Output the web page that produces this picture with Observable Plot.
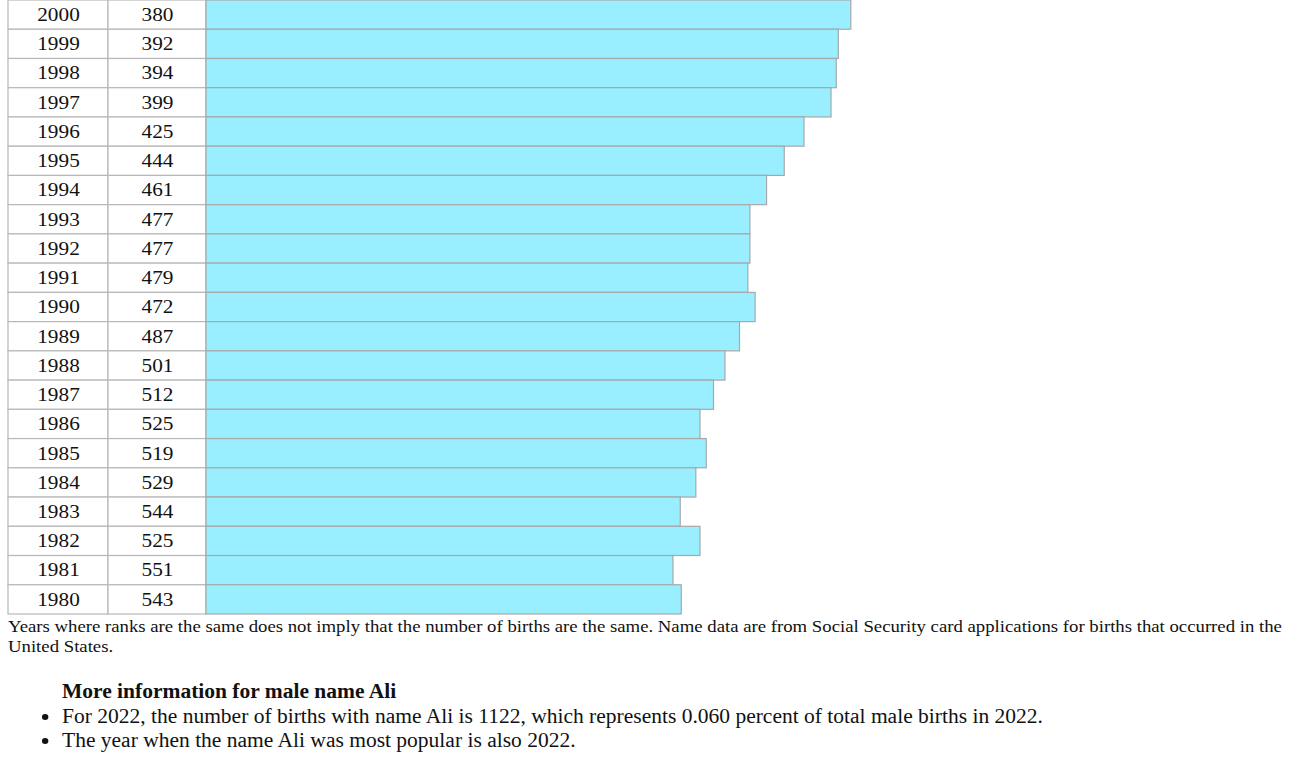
<!DOCTYPE html>
<html>
<head>
<meta charset="utf-8">
<script src="https://cdn.jsdelivr.net/npm/d3@7"></script>
<script src="https://cdn.jsdelivr.net/npm/@observablehq/plot@0.6"></script>
<style>
  html, body { margin: 0; padding: 0; background: #fff; }
  body { font-family: "Liberation Serif", "Times New Roman", serif; color: #111; width: 1304px; height: 760px; position: relative; overflow: hidden; }
  #chart { position: absolute; left: 0; top: 0; }
  #chart svg { display: block; }
  .wide { position: absolute; transform: scaleX(1.075); transform-origin: 0 0; }
  .note { left: 8px; top: 617px; width: 1200px; font-size: 17.45px; line-height: 19.5px; }
  .more { left: 62px; top: 678.7px; font-size: 20px; font-weight: bold; line-height: 25px; white-space: nowrap; }
  .list { left: 0; top: 703.7px; width: 1200px; }
  .list ul { margin: 0; padding-left: 57.7px; font-size: 20px; line-height: 24.7px; }
</style>
</head>
<body>
<div id="chart"></div>
<div class="wide note">Years where ranks are the same does not imply that the number of births are the same. Name data are from Social Security card applications for births that occurred in the United States.</div>
<div class="wide more">More information for male name Ali</div>
<div class="wide list">
<ul>
  <li>For 2022, the number of births with name Ali is 1122, which represents 0.060 percent of total male births in 2022.</li>
  <li>The year when the name Ali was most popular is also 2022.</li>
</ul>
</div>
<script>
const years = [2000, 1999, 1998, 1997, 1996, 1995, 1994, 1993, 1992, 1991, 1990, 1989, 1988, 1987, 1986, 1985, 1984, 1983, 1982, 1981, 1980];
const ranks = [380, 392, 394, 399, 425, 444, 461, 477, 477, 479, 472, 487, 501, 512, 525, 519, 529, 544, 525, 551, 543];
const rankCeiling = 1000;

const data = years.map((y, i) => ({year: String(y), rank: ranks[i], score: rankCeiling - ranks[i]}));

const chart = Plot.plot({
  width: 1304,
  height: 615,
  marginLeft: 206,
  marginRight: 58,
  marginTop: 0,
  marginBottom: 1,
  x: {domain: [0, rankCeiling], axis: null},
  y: {type: "band", domain: data.map(d => d.year), padding: 0, round: false, axis: null},
  style: {fontFamily: "Liberation Serif, Times New Roman, serif", background: "#fff"},
  marks: [
    // year cells
    Plot.barX(data, {y: "year", x1: 0, x2: 0, insetLeft: -198, insetRight: 98, fill: "#fff", stroke: "#b8b8b8", strokeWidth: 1.2}),
    // rank cells
    Plot.barX(data, {y: "year", x1: 0, x2: 0, insetLeft: -98, insetRight: 0, fill: "#fff", stroke: "#b8b8b8", strokeWidth: 1.2}),
    // bars
    Plot.barX(data, {y: "year", x1: 0, x2: "score", fill: "#99eeff", stroke: "#a8a8a8", strokeWidth: 1.2}),
    Plot.text(data, {y: "year", text: "year", frameAnchor: "left", dx: -148, dy: -0.5, textAnchor: "middle", fontSize: 19.8, fill: "#111", className: "cell-text"}),
    Plot.text(data, {y: "year", text: d => String(d.rank), frameAnchor: "left", dx: -49, dy: -0.5, textAnchor: "middle", fontSize: 19.8, fill: "#111", className: "cell-text"})
  ]
});
// widen glyphs slightly (match reference letter proportions)
chart.querySelectorAll(".cell-text text").forEach(t => {
  const tr = t.getAttribute("transform");
  if (tr && /translate/.test(tr)) t.setAttribute("transform", tr + " scale(1.075,1)");
});
document.getElementById("chart").appendChild(chart);
</script>
</body>
</html>
